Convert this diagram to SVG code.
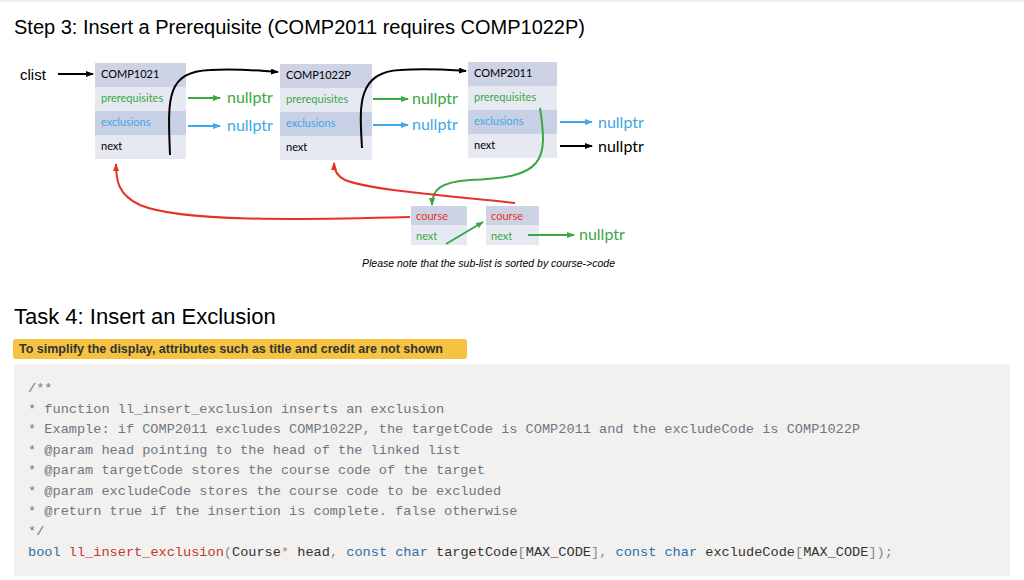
<svg xmlns="http://www.w3.org/2000/svg" width="1024" height="580" viewBox="0 0 1024 580">
<defs>
<marker id="ak" markerWidth="8" markerHeight="6" refX="7" refY="3" orient="auto" markerUnits="userSpaceOnUse"><path d="M0,0L8,3L0,6z" fill="#000"/></marker>
<marker id="ag" markerWidth="8" markerHeight="6" refX="7" refY="3" orient="auto" markerUnits="userSpaceOnUse"><path d="M0,0L8,3L0,6z" fill="#3aa845"/></marker>
<marker id="ab" markerWidth="8" markerHeight="6" refX="7" refY="3" orient="auto" markerUnits="userSpaceOnUse"><path d="M0,0L8,3L0,6z" fill="#3ea8e8"/></marker>
<marker id="ar" markerWidth="8" markerHeight="6" refX="7" refY="3" orient="auto" markerUnits="userSpaceOnUse"><path d="M0,0L8,3L0,6z" fill="#e5332a"/></marker>
</defs>
<style>
.s{font-family:"Liberation Sans",Arial,sans-serif}
.c{font-family:Lato,"Liberation Sans",sans-serif;font-size:11px}
.h{fill:#cdd2e4}.l{fill:#e7e9f2}.e{fill:#c8d0e5}
.g{fill:#3aa845}.b{fill:#3ea8e8}.r{fill:#e5332a}
.np{font-family:Lato,"Liberation Sans",sans-serif;font-size:16px}
.m{font-family:"Liberation Mono",monospace;font-size:13.6px;fill:#6f7680}
</style>
<rect width="1024" height="580" fill="#fff"/>
<line x1="0" y1="1" x2="1024" y2="1" stroke="#ddd"/>
<text x="14" y="34" class="s" font-size="20">Step 3: Insert a Prerequisite (COMP2011 requires COMP1022P)</text>
<text x="20" y="80" class="s" font-size="15">clist</text>
<g id="n1">
<rect x="95" y="63" width="91" height="24" class="h"/><rect x="95" y="87" width="91" height="24" class="l"/><rect x="95" y="111" width="91" height="24" class="e"/><rect x="95" y="135" width="91" height="24" class="l"/>
<text x="101" y="78" class="c">COMP1021</text><text x="101" y="102" class="c g">prerequisites</text><text x="101" y="126" class="c b">exclusions</text><text x="101" y="150" class="c">next</text>
</g>
<g id="n2">
<rect x="280" y="64" width="92" height="24" class="h"/><rect x="280" y="88" width="92" height="24" class="l"/><rect x="280" y="112" width="92" height="24" class="e"/><rect x="280" y="136" width="92" height="24" class="l"/>
<text x="286" y="79" class="c">COMP1022P</text><text x="286" y="103" class="c g">prerequisites</text><text x="286" y="127" class="c b">exclusions</text><text x="286" y="151" class="c">next</text>
</g>
<g id="n3">
<rect x="468" y="62" width="89" height="24" class="h"/><rect x="468" y="86" width="89" height="24" class="l"/><rect x="468" y="110" width="89" height="24" class="e"/><rect x="468" y="134" width="89" height="24" class="l"/>
<text x="474" y="77" class="c">COMP2011</text><text x="474" y="101" class="c g">prerequisites</text><text x="474" y="125" class="c b">exclusions</text><text x="474" y="149" class="c">next</text>
</g>
<g id="s1">
<rect x="411" y="206" width="56" height="19" class="h"/><rect x="411" y="225" width="56" height="20" class="l"/>
<text x="416" y="220" class="c r">course</text><text x="416" y="240" class="c g">next</text>
</g>
<g id="s2">
<rect x="486" y="206" width="53" height="19" class="h"/><rect x="486" y="225" width="53" height="20" class="l"/>
<text x="491" y="220" class="c r">course</text><text x="491" y="240" class="c g">next</text>
</g>
<g id="connectors" fill="none" stroke-width="2">
<line x1="58" y1="74" x2="93" y2="74" stroke="#000" marker-end="url(#ak)"/>
<path d="M170,155 C168,100 165,72 210,70 C240,68 260,71 278,72" stroke="#000" marker-end="url(#ak)"/>
<path d="M362,148 C360,110 355,72 400,70 C430,68 450,70 466,71" stroke="#000" marker-end="url(#ak)"/>
<line x1="188" y1="98" x2="220" y2="98" stroke="#3aa845" marker-end="url(#ag)"/>
<line x1="188" y1="126" x2="220" y2="126" stroke="#3ea8e8" marker-end="url(#ab)"/>
<line x1="373" y1="99" x2="408" y2="99" stroke="#3aa845" marker-end="url(#ag)"/>
<line x1="373" y1="125" x2="408" y2="125" stroke="#3ea8e8" marker-end="url(#ab)"/>
<line x1="560" y1="122" x2="592" y2="122" stroke="#3ea8e8" marker-end="url(#ab)"/>
<line x1="560" y1="146" x2="592" y2="146" stroke="#000" marker-end="url(#ak)"/>
<path d="M540,108 C548,160 545,178 470,180 C440,182 432,190 432,205" stroke="#3aa845" marker-end="url(#ag)"/>
<line x1="446" y1="244" x2="483" y2="222" stroke="#3aa845" marker-end="url(#ag)"/>
<line x1="528" y1="235" x2="574" y2="235" stroke="#3aa845" marker-end="url(#ag)"/>
<path d="M410,217 C300,220 180,222 140,205 C118,195 116,180 116,164" stroke="#e5332a" marker-end="url(#ar)"/>
<path d="M515,203 C440,195 370,190 345,180 C335,175 334,168 334,163" stroke="#e5332a" marker-end="url(#ar)"/>
</g>
<text x="227" y="103" class="np g">nullptr</text>
<text x="227" y="131" class="np b">nullptr</text>
<text x="412" y="104" class="np g">nullptr</text>
<text x="412" y="130" class="np b">nullptr</text>
<text x="598" y="128" class="np b">nullptr</text>
<text x="598" y="152" class="np">nullptr</text>
<text x="579" y="240" class="np g">nullptr</text>
<text x="362" y="267" class="s" font-size="10.5" font-style="italic">Please note that the sub-list is sorted by course-&gt;code</text>
<text x="14" y="324" class="s" font-size="22">Task 4: Insert an Exclusion</text>
<rect x="13" y="339" width="454" height="20" rx="3" fill="#f5c242"/>
<text x="19" y="353" class="s" font-size="12.5" font-weight="bold" fill="#333">To simplify the display, attributes such as title and credit are not shown</text>
<rect x="14" y="364" width="996" height="212" fill="#f2f1f0"/>
<g class="m" xml:space="preserve">
<text x="28" y="392">/**</text>
<text x="28" y="413"> * function ll_insert_exclusion inserts an exclusion</text>
<text x="28" y="433"> * Example: if COMP2011 excludes COMP1022P, the targetCode is COMP2011 and the excludeCode is COMP1022P</text>
<text x="28" y="454"> * @param head pointing to the head of the linked list</text>
<text x="28" y="474"> * @param targetCode stores the course code of the target</text>
<text x="28" y="495"> * @param excludeCode stores the course code to be excluded</text>
<text x="28" y="515"> * @return true if the insertion is complete. false otherwise</text>
<text x="28" y="535">*/</text>
<text x="28" y="556" fill="#333"><tspan fill="#2f6fa8">bool</tspan> <tspan fill="#c0392b">ll_insert_exclusion</tspan><tspan fill="#888">(</tspan>Course<tspan fill="#b5882e">*</tspan> head<tspan fill="#888">,</tspan> <tspan fill="#2f6fa8">const char</tspan> targetCode<tspan fill="#888">[</tspan>MAX_CODE<tspan fill="#888">],</tspan> <tspan fill="#2f6fa8">const char</tspan> excludeCode<tspan fill="#888">[</tspan>MAX_CODE<tspan fill="#888">]);</tspan></text>
</g>
</svg>
